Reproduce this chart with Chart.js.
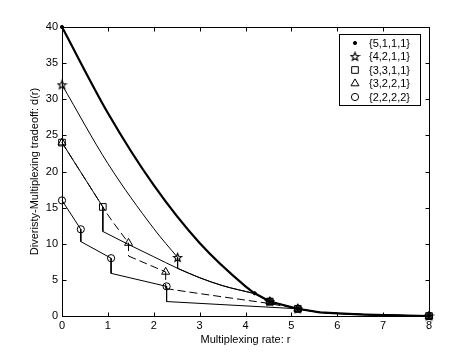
<!DOCTYPE html>
<html><head><meta charset="utf-8">
<script src="https://cdn.jsdelivr.net/npm/chart.js@4"></script>
<style>html,body{margin:0;padding:0;background:#fff}canvas{display:block}</style>
</head><body>
<canvas id="c" width="474" height="355"></canvas>
<script>
// ---------- data ----------
const seriesLabels = ['{5,1,1,1}', '{4,2,1,1}', '{3,3,1,1}', '{3,2,2,1}', '{2,2,2,2}'];
const xTickValues = [0, 1, 2, 3, 4, 5, 6, 7, 8];
const yTickValues = [0, 5, 10, 15, 20, 25, 30, 35, 40];
const xTitle = 'Multiplexing rate: r';
const yTitle = 'Diveristy-Multiplexing tradeoff: d(r)';

// common tail shared by all curves
const tailR = [4.53, 5.14, 5.62, 6.02, 6.6, 8];
const tailD = [2.0, 1.0, 0.5, 0.35, 0.2, 0];

// curve pieces (r, d); a piece ends at a marker, the next starts after the vertical drop
const s5111aR = [0, 1, 2, 3, 4, 4.2];
const s5111aD = [40, 28.1, 18.1, 10.1, 4.1, 3.15];

const s4211aR = [0, 1, 2, 2.52];
const s4211aD = [32, 21.1, 12.1, 8.1];
const s4211bR = [2.52, 3, 3.5, 4.2];
const s4211bD = [6.6, 5.3, 4.2, 3.1];

const s3311aR = [0, 0.89];
const s3311aD = [24, 15.1];
const s3311bR = [0.89, 1.45, 2, 2.52, 3, 3.5, 4.2];
const s3311bD = [11.7, 9.9, 8.2, 6.6, 5.3, 4.2, 3.1];

const s3221aR = [0, 0.89, 1, 1.45];
const s3221aD = [24, 15.1, 14, 10.1];
const s3221bR = [1.45, 2.26];
const s3221bD = [8.3, 6.1];
const s3221cR = [2.26, 3, 4.5, 5.14];
const s3221cD = [3.8, 3.1, 1.75, 1.0];

const s2222aR = [0, 0.41];
const s2222aD = [16, 12];
const s2222bR = [0.41, 1.07];
const s2222bD = [10.3, 8];
const s2222cR = [1.07, 2.28];
const s2222cD = [5.9, 4.1];
const s2222dR = [2.28, 5.14];
const s2222dD = [2.0, 1.0];

// marker positions (r, d)
const m5111R = [0, 4.2, 4.53, 5.14, 8];
const m5111D = [40, 3.15, 2, 1, 0];
const m4211R = [0, 2.52, 4.53, 5.14, 8];
const m4211D = [32, 8.1, 2, 1, 0];
const m3311R = [0, 0.89, 4.53, 5.14, 8];
const m3311D = [24, 15.1, 2, 1, 0];
const m3221R = [0, 1.45, 2.26, 4.53, 5.14, 8];
const m3221D = [24, 10.1, 6.1, 2, 1, 0];
const m2222R = [0, 0.41, 1.07, 2.28, 4.53, 5.14, 8];
const m2222D = [16, 12, 8, 4.1, 2, 1, 0];

// ---------- helpers ----------
function pts(rs, ds) { return rs.map((r, i) => ({ x: r, y: ds[i] })); }
function drop(r, top, bottom) { return [{ x: r, y: top }, { x: r, y: bottom }]; }
function lastPt(rs, ds) { return { x: rs[rs.length - 1], y: ds[ds.length - 1] }; }

function makeStar() {
  const c = document.createElement('canvas');
  c.width = 11; c.height = 11;
  const g = c.getContext('2d');
  g.strokeStyle = '#000'; g.lineWidth = 1.2;
  g.beginPath();
  for (let i = 0; i < 10; i++) {
    const a = -Math.PI / 2 + i * Math.PI / 5;
    const rr = (i % 2) ? 1.9 : 4.3;
    g.lineTo(5.5 + rr * Math.cos(a), 5.8 + rr * Math.sin(a));
  }
  g.closePath(); g.stroke();
  return c;
}
const starImg = makeStar();

const markerStyles = [
  { pointStyle: 'circle', radius: 1.6, bg: '#000' },
  { pointStyle: starImg, radius: 5, bg: 'transparent' },
  { pointStyle: 'rect', radius: 4.7, bg: 'transparent' },
  { pointStyle: 'triangle', radius: 4.6, bg: 'transparent' },
  { pointStyle: 'circle', radius: 3.6, bg: 'transparent' }
];

const tailPts = pts(tailR, tailD);
const tailFrom1 = pts(tailR.slice(1), tailD.slice(1));
const DASH = [8, 4];

// each piece: data, width, dash, smooth
const pieces = [
  // {5,1,1,1}
  { data: pts(s5111aR, s5111aD), width: 2.2, dash: [], smooth: true },
  { data: [lastPt(s5111aR, s5111aD)].concat(tailPts), width: 2.2, dash: [], smooth: false },
  // {4,2,1,1}
  { data: pts(s4211aR, s4211aD), width: 1, dash: [], smooth: true },
  { data: drop(s4211aR[3], s4211aD[3], s4211bD[0]), width: 1, dash: [], smooth: false },
  { data: pts(s4211bR, s4211bD), width: 1, dash: [], smooth: true },
  { data: [lastPt(s4211bR, s4211bD)].concat(tailPts), width: 1, dash: [], smooth: false },
  // {3,3,1,1}
  { data: pts(s3311aR, s3311aD), width: 1, dash: [], smooth: false },
  { data: drop(s3311aR[1], s3311aD[1], s3311bD[0]), width: 1, dash: [], smooth: false },
  { data: pts(s3311bR, s3311bD), width: 1, dash: [], smooth: true },
  { data: [lastPt(s3311bR, s3311bD)].concat(tailPts), width: 1, dash: [], smooth: false },
  // {3,2,2,1}
  { data: pts(s3221aR, s3221aD), width: 1, dash: DASH, smooth: true },
  { data: drop(s3221aR[3], s3221aD[3], s3221bD[0]), width: 1, dash: DASH, smooth: false },
  { data: pts(s3221bR, s3221bD), width: 1, dash: DASH, smooth: false },
  { data: drop(s3221bR[1], s3221bD[1], s3221cD[0]), width: 1, dash: DASH, smooth: false },
  { data: pts(s3221cR, s3221cD).concat(tailFrom1), width: 1, dash: DASH, smooth: false },
  // {2,2,2,2}
  { data: pts(s2222aR, s2222aD), width: 1, dash: [], smooth: false },
  { data: drop(s2222aR[1], s2222aD[1], s2222bD[0]), width: 1, dash: [], smooth: false },
  { data: pts(s2222bR, s2222bD), width: 1, dash: [], smooth: false },
  { data: drop(s2222bR[1], s2222bD[1], s2222cD[0]), width: 1, dash: [], smooth: false },
  { data: pts(s2222cR, s2222cD), width: 1, dash: [], smooth: false },
  { data: drop(s2222cR[1], s2222cD[1], s2222dD[0]), width: 1, dash: [], smooth: false },
  { data: pts(s2222dR, s2222dD).concat(tailFrom1), width: 1, dash: [], smooth: false }
];

const markerSets = [
  pts(m5111R, m5111D), pts(m4211R, m4211D), pts(m3311R, m3311D), pts(m3221R, m3221D), pts(m2222R, m2222D)
];

const datasets = [];
markerSets.forEach((d, i) => {
  const st = markerStyles[i];
  datasets.push({
    label: seriesLabels[i], data: d, showLine: false, clip: false,
    pointStyle: st.pointStyle, pointRadius: st.radius, pointBorderWidth: 1,
    pointBorderColor: '#000', pointBackgroundColor: st.bg
  });
});
pieces.forEach((p) => {
  datasets.push({
    label: '', data: p.data, showLine: true, pointRadius: 0,
    borderColor: '#000', borderWidth: p.width, borderDash: p.dash, fill: false,
    cubicInterpolationMode: p.smooth ? 'monotone' : 'default', tension: 0, clip: 2
  });
});

const FONT = '"Liberation Sans", Arial, Helvetica, sans-serif';

const framePlugin = {
  id: 'frame',
  beforeDraw(chart) {
    const ctx = chart.ctx;
    ctx.save(); ctx.fillStyle = '#fff'; ctx.fillRect(0, 0, chart.width, chart.height); ctx.restore();
  },
  afterDraw(chart) {
    const { ctx, chartArea, scales } = chart;
    const L = Math.round(chartArea.left) + 0.5, R = Math.round(chartArea.right) + 0.5;
    const T = Math.round(chartArea.top) + 0.5, B = Math.round(chartArea.bottom) + 0.5;
    ctx.save();
    ctx.strokeStyle = '#000'; ctx.lineWidth = 1;
    ctx.strokeRect(L, T, R - L, B - T);
    const tl = 4;
    ctx.beginPath();
    xTickValues.forEach(v => {
      const px = Math.round(scales.x.getPixelForValue(v)) + 0.5;
      ctx.moveTo(px, B); ctx.lineTo(px, B - tl);
      ctx.moveTo(px, T); ctx.lineTo(px, T + tl);
    });
    yTickValues.forEach(v => {
      const py = Math.round(scales.y.getPixelForValue(v)) + 0.5;
      ctx.moveTo(L, py); ctx.lineTo(L + tl, py);
      ctx.moveTo(R, py); ctx.lineTo(R - tl, py);
    });
    ctx.stroke();

    // legend box
    const bx = 339.5, by = 34.5, bw = 81, bh = 71;
    ctx.fillStyle = '#fff';
    ctx.fillRect(bx, by, bw, bh);
    ctx.strokeRect(bx, by, bw, bh);
    ctx.font = '11px ' + FONT;
    ctx.fillStyle = '#000';
    ctx.textBaseline = 'middle';
    ctx.textAlign = 'left';
    seriesLabels.forEach((lab, i) => {
      const yy = 43 + i * 13.5;
      const st = markerStyles[i];
      ctx.save();
      ctx.strokeStyle = '#000'; ctx.fillStyle = st.bg; ctx.lineWidth = 1;
      Chart.helpers.drawPoint(ctx, { pointStyle: st.pointStyle, radius: st.radius, borderWidth: 1, rotation: 0 }, 355, yy);
      ctx.restore();
      ctx.fillText(lab, 369, yy + 0.5);
    });
    ctx.restore();
  }
};

new Chart(document.getElementById('c'), {
  type: 'scatter',
  data: { datasets },
  options: {
    responsive: false, animation: false, devicePixelRatio: 1, events: [],
    layout: { padding: { left: 0, right: 45, top: 27, bottom: 0 } },
    plugins: { legend: { display: false }, tooltip: { enabled: false } },
    scales: {
      x: {
        type: 'linear', min: 0, max: 8,
        afterFit(s) { s.height = 39; },
        afterBuildTicks(s) { s.ticks = xTickValues.map(v => ({ value: v })); },
        grid: { display: false, drawTicks: false }, border: { display: false },
        ticks: { color: '#000', font: { family: FONT, size: 11 }, padding: 3, autoSkip: false, maxRotation: 0 },
        title: { display: true, text: xTitle, color: '#000', font: { family: FONT, size: 11 }, padding: { top: 0, bottom: 8 } }
      },
      y: {
        type: 'linear', min: 0, max: 40,
        afterFit(s) { s.width = 62; },
        afterBuildTicks(s) { s.ticks = yTickValues.map(v => ({ value: v })); },
        grid: { display: false, drawTicks: false }, border: { display: false },
        ticks: { color: '#000', font: { family: FONT, size: 11 }, padding: 4, autoSkip: false },
        title: { display: true, text: yTitle, color: '#000', font: { family: FONT, size: 11 }, padding: { top: 28, bottom: 0 } }
      }
    }
  },
  plugins: [framePlugin]
});
</script>
</body></html>
